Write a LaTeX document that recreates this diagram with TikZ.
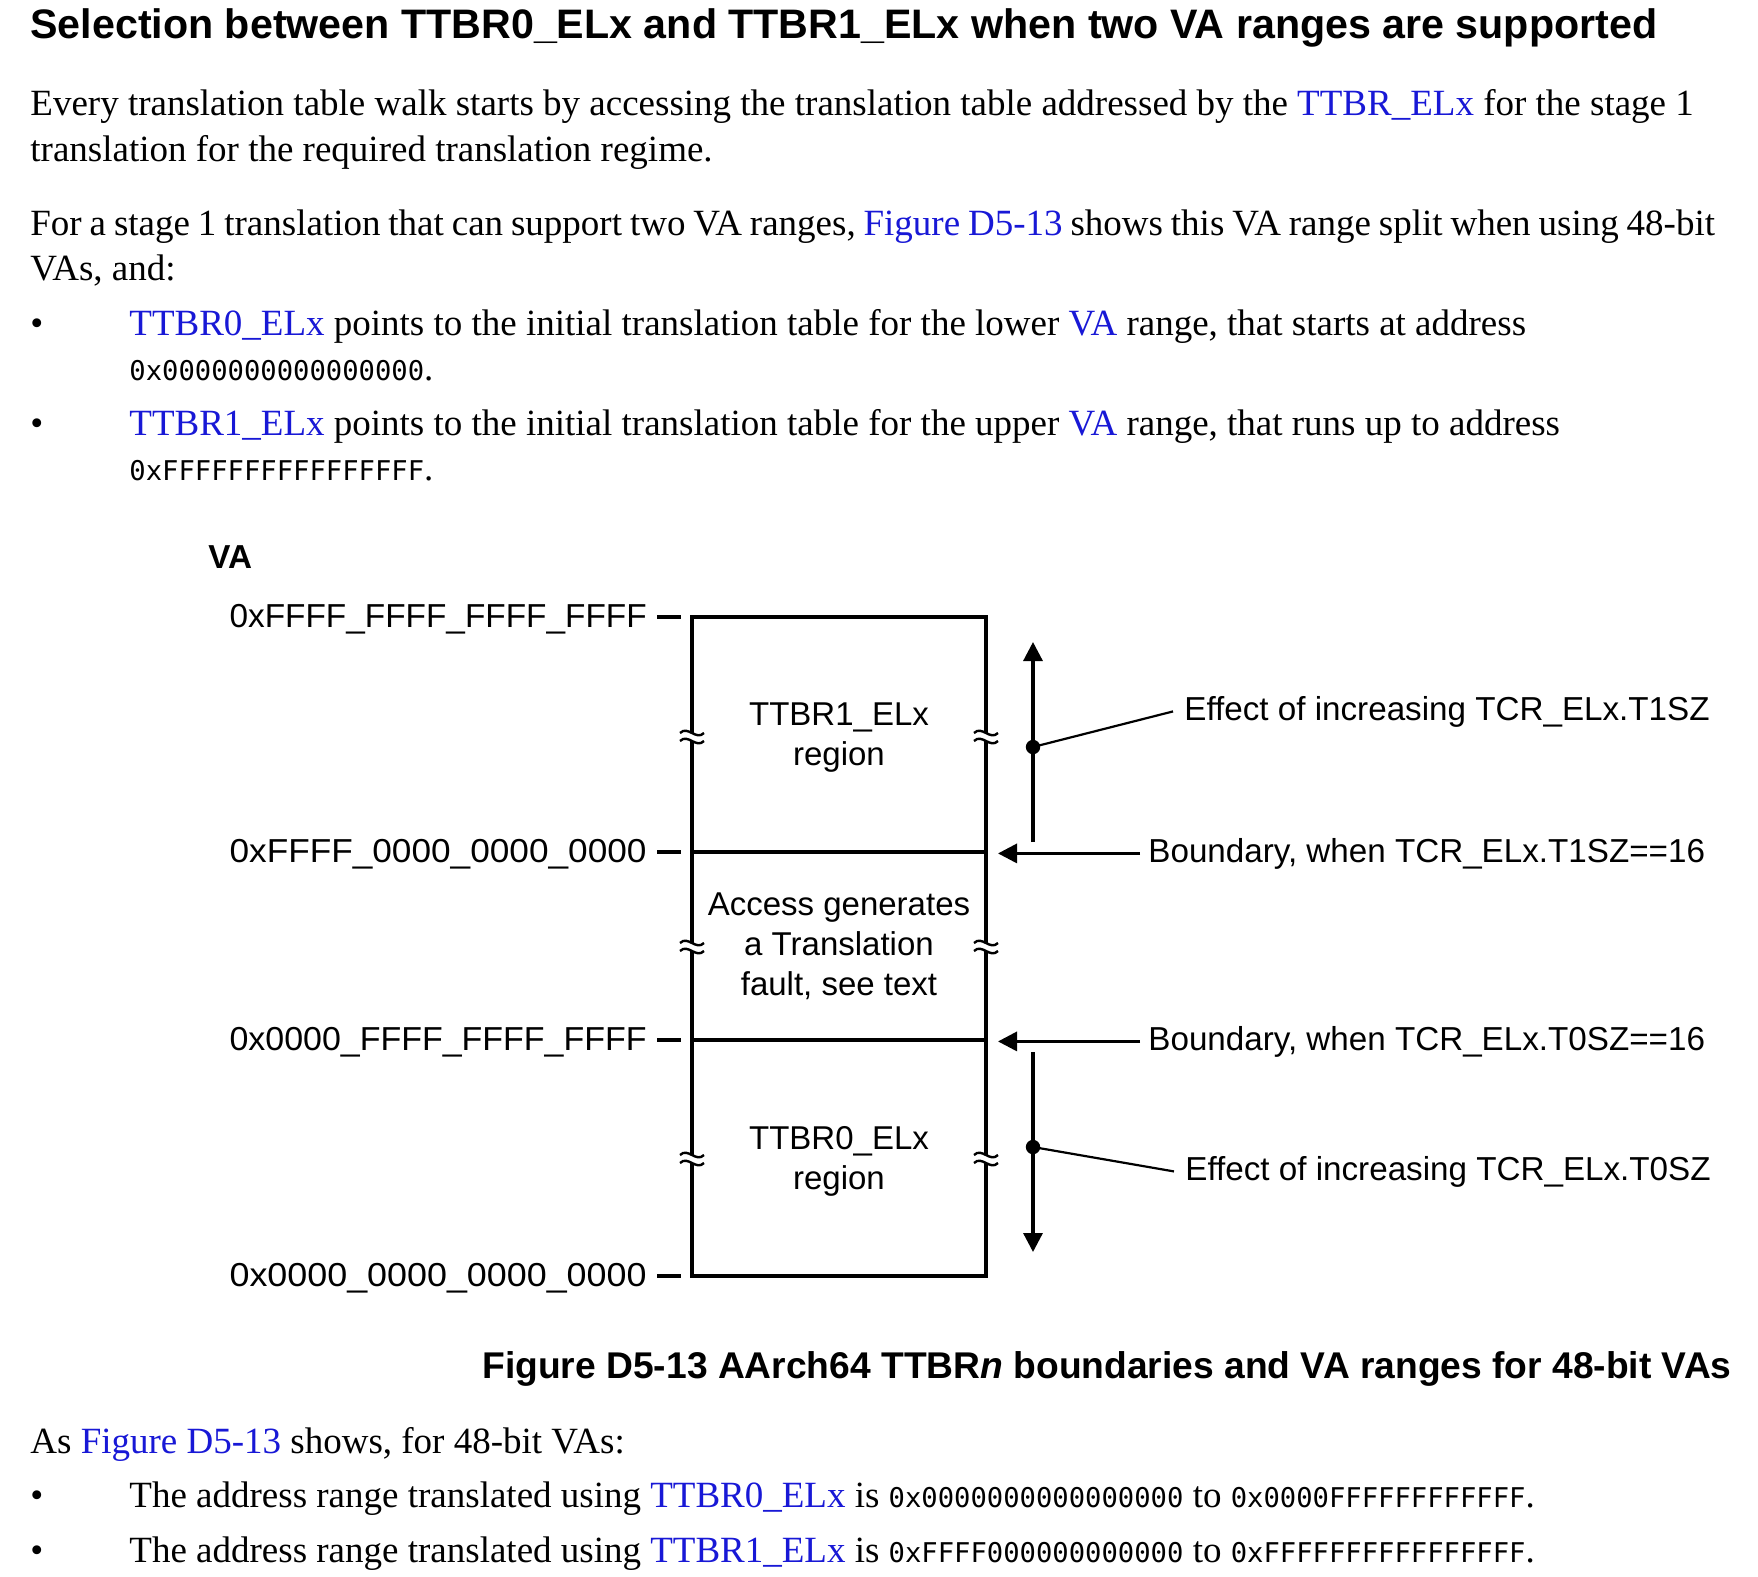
\documentclass[tikz,border=0pt]{standalone}
\usepackage{fontspec}
\setmainfont{Liberation Serif}
\setsansfont{Liberation Sans}
\setmonofont{DejaVu Sans Mono}
\usetikzlibrary{arrows.meta}
\definecolor{linkblue}{RGB}{24,24,214}
\newcommand{\lnk}[1]{\textcolor{linkblue}{#1}}
\newcommand{\hexa}[1]{{\fontsize{13.6}{16}\ttfamily #1}}
\newcommand{\vaddr}[1]{\resizebox{208.5pt}{\height}{#1}}
% break mark on a side of the box
\newcommand{\vbreak}[2]{%
  \fill[white] (#1-13,#2-4) rectangle (#1+13,#2+4);
  \draw[line width=1.2pt] (#1-12,#2-4) .. controls (#1-4,#2-12) and (#1+4,#2+4) .. (#1+12,#2-4);
  \draw[line width=1.2pt] (#1-12,#2+4) .. controls (#1-4,#2-4) and (#1+4,#2+12) .. (#1+12,#2+4);}
\begin{document}
\begin{tikzpicture}[x=0.5pt,y=-0.5pt,>={Triangle[length=9.5pt,width=9.5pt]},
  body/.style={anchor=base west,inner sep=0pt,font=\fontsize{18.5}{23}\selectfont},
  head/.style={anchor=base west,inner sep=0pt,font=\sffamily\bfseries\fontsize{20.6}{24}\selectfont},
  lab/.style={inner sep=0pt,font=\sffamily\fontsize{16.6}{20}\selectfont},
  region/.style={draw,line width=1.6pt,minimum width=147pt,inner sep=0pt,outer sep=0pt},
  regtxt/.style={inner sep=0pt,align=center,font=\sffamily\fontsize{16.5}{20}\selectfont},
  thick line/.style={line width=1.6pt},
  leader/.style={line width=1.1pt}]
\useasboundingbox[fill=white] (0,0) rectangle (1758,1576);
% text above the figure
\node[head] (title) at (30,38) {Selection between TTBR0\_ELx and TTBR1\_ELx when two VA ranges are supported};
\node[body] (p1a) at (30,115) {Every translation table walk starts by accessing the translation table addressed by the \lnk{TTBR\_ELx} for the stage 1};
\node[body] (p1b) at (30,161) {translation for the required translation regime.};
\node[body] (p2a) at (30,235) {\spaceskip=3.95pt For a stage 1 translation that can support two VA ranges, \lnk{Figure D5-13} shows this VA range split when using 48-bit};
\node[body] (p2b) at (30,280) {VAs, and:};
\node[body] (dotA) at (30,335) {•};
\node[body] (b1a) at (129,335) {\lnk{TTBR0\_ELx} points to the initial translation table for the lower \lnk{VA} range, that starts at address};
\node[body] (b1b) at (129,380) {\hexa{0x0000000000000000}.};
\node[body] (dotB) at (30,435) {•};
\node[body] (b2a) at (129,435) {\lnk{TTBR1\_ELx} points to the initial translation table for the upper \lnk{VA} range, that runs up to address};
\node[body] (b2b) at (129,480) {\hexa{0xFFFFFFFFFFFFFFFF}.};
% the figure
\node[lab,anchor=base west,font=\sffamily\bfseries\fontsize{16.6}{20}\selectfont] (va) at (208,568) {VA};
\node[region,minimum height=117.5pt] (r1) at (839,734.5) {};
\node[region,minimum height=94pt] (rf) at (839,946) {};
\node[region,minimum height=118pt] (r0) at (839,1158) {};
\node[regtxt] (t1) at ([yshift=-1.75pt]r1.center) {TTBR1\_ELx\\region};
\node[regtxt] (tf) at (rf.center) {Access generates\\a Translation\\fault, see text};
\node[regtxt] (t0) at ([yshift=-1.75pt]r0.center) {TTBR0\_ELx\\region};
\foreach \y in {737,947,1159}
  \foreach \x in {692,986}
    {\vbreak{\x}{\y}}
\foreach \y/\t in {617/0xFFFF\_FFFF\_FFFF\_FFFF,852/0xFFFF\_0000\_0000\_0000,
                   1040/0x0000\_FFFF\_FFFF\_FFFF,1276/0x0000\_0000\_0000\_0000}
  {\node[lab,anchor=base east] at (647,\y+10) {\vaddr{\t}};
   \draw[thick line] (657,\y) -- (681,\y);}
% arrows on the right
\coordinate (up0) at (1033,842);
\coordinate (up1) at (1033,642);
\coordinate (dn0) at (1033,1052);
\coordinate (dn1) at (1033,1252);
\coordinate (dotU) at (1033,747);
\coordinate (dotL) at (1033,1147);
\coordinate (tipx) at (998,0);
\draw[thick line,->] (up0) -- (up1);
\draw[thick line,->] (dn0) -- (dn1);
\fill (dotU) circle (3.6pt);
\fill (dotL) circle (3.6pt);
\node[lab,anchor=base west,inner xsep=5.5pt] (effA) at (1173,720) {Effect of increasing TCR\_ELx.T1SZ};
\node[lab,anchor=base west,inner xsep=4pt] (bndA) at (1140,862) {Boundary, when TCR\_ELx.T1SZ==16};
\node[lab,anchor=base west,inner xsep=4pt] (bndB) at (1140,1050) {Boundary, when TCR\_ELx.T0SZ==16};
\node[lab,anchor=base west,inner xsep=5.5pt] (effB) at (1174,1180) {Effect of increasing TCR\_ELx.T0SZ};
\draw[leader] (dotU) -- (effA.west);
\draw[leader] (dotL) -- (effB.west);
\draw[thick line,->] (bndA.west) -- (bndA.west -| tipx);
\draw[thick line,->] (bndB.west) -- (bndB.west -| tipx);
% caption and text below
\node[head,anchor=base east,font=\sffamily\bfseries\fontsize{18.6}{22}\selectfont] (cap) at (1732,1378) {Figure D5-13 AArch64 TTBR\textit{n} boundaries and VA ranges for 48-bit VAs};
\node[body] (p3) at (30,1453) {As \lnk{Figure D5-13} shows, for 48-bit VAs:};
\node[body] (dotC) at (30,1507) {•};
\node[body] (b3) at (129,1507) {The address range translated using \lnk{TTBR0\_ELx} is \hexa{0x0000000000000000} to \hexa{0x0000FFFFFFFFFFFF}.};
\node[body] (dotD) at (30,1562) {•};
\node[body] (b4) at (129,1562) {The address range translated using \lnk{TTBR1\_ELx} is \hexa{0xFFFF000000000000} to \hexa{0xFFFFFFFFFFFFFFFF}.};
\end{tikzpicture}
\end{document}
